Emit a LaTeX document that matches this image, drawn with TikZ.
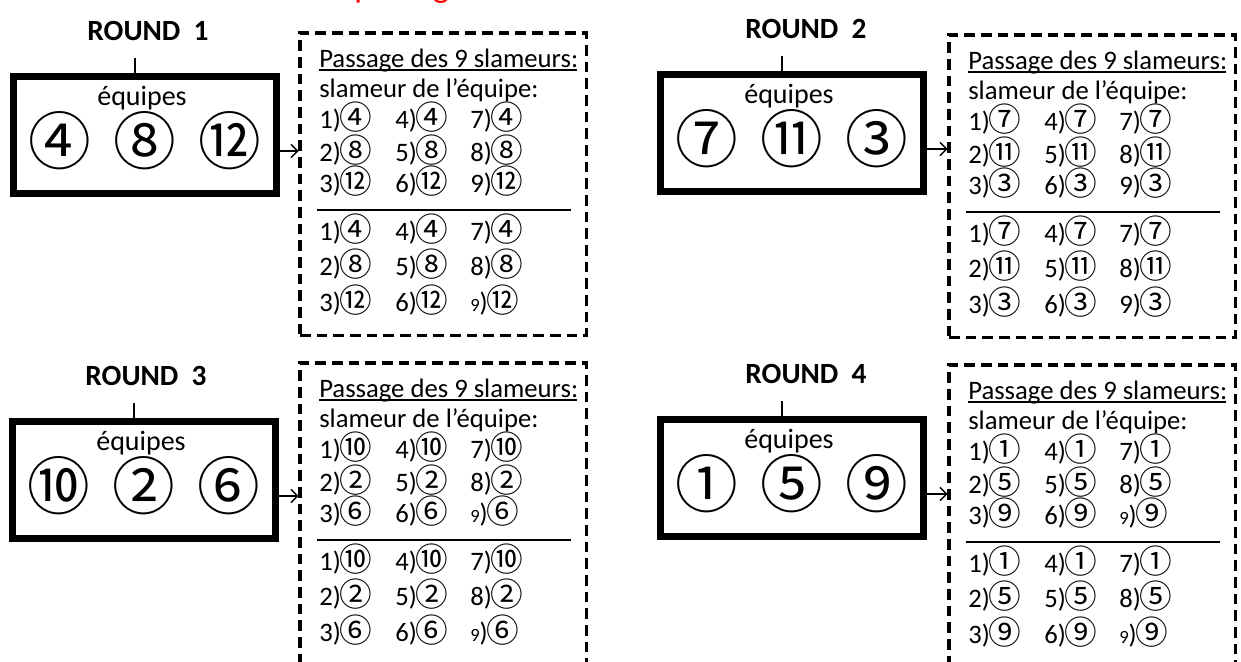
\documentclass[tikz,border=0pt]{standalone}
\usepackage{fontspec}
\setmainfont{Carlito}
\newfontfamily\circfont{Noto Sans CJK JP}
\usetikzlibrary{positioning,arrows.meta,calc}
\newcommand{\cn}[1]{{\kern-1pt\circfont\fontsize{24.5}{25}\selectfont\raisebox{-1.2pt}{#1}}}
\newcommand{\smallnine}{{\fontsize{14}{14}\selectfont 9}}
\tikzset{
  >=Straight Barb,
  shorten >=1pt,
}

\begin{document}
\begin{tikzpicture}[
  x=0.75pt, y=-0.75pt,
  roundlabel/.style={font=\fontsize{22}{26}\selectfont\bfseries, inner sep=0pt, anchor=base},
  teambox/.style={draw, line width=5.25pt, outer sep=0pt, minimum width=197pt, minimum height=88pt},
  team/.style={font=\circfont\fontsize{47}{47}\selectfont, inner sep=0pt},
  teamword/.style={font=\fontsize{21}{24}\selectfont, inner sep=0pt},
  slamlist/.style={draw, dash pattern=on 8pt off 4.5pt, line width=2.5pt, outer sep=0pt,
    minimum width=215pt, minimum height=227pt, anchor=north west},
  entry/.style={font=\fontsize{20}{24}\selectfont, inner sep=0pt, anchor=base west},
  stem/.style={line width=1.5pt},
  link/.style={->, line width=1.1pt, >={Straight Barb[length=5pt,width=10pt]}}
]

\useasboundingbox (0,0) rectangle (1241,661);

% red heading, cut off by the top edge
\node[entry, text=red, font=\fontsize{26}{30}\selectfont] (heading) at (354,-3) {passage};

\foreach \k/\bx/\by/\lo/\lx/\ly/\ta/\tb/\tc/\nu/\nd in {
  1/145/135/3/300/33/④/⑧/⑫/9/\smallnine,
  2/792/133/14/949/35/⑦/⑪/③/9/9,
  3/144/480/2/300/363/⑩/②/⑥/\smallnine/\smallnine,
  4/792/478/14/949/365/①/⑤/⑨/\smallnine/\smallnine}
{
  % teams of the round
  \node[teambox] (box\k) at (\bx,\by) {};
  \node[roundlabel] (lbl\k) at ($(box\k)+(\lo,-95)$) {ROUND~~\k};
  \node[teamword] (word\k) at ($(box\k)+(-3,-37)$) {équipes};
  \node[team] (ta\k) at ($(box\k)+(-85,6)$) {\ta};
  \node[team] (tb\k) at ($(box\k)+(0,6)$) {\tb};
  \node[team] (tc\k) at ($(box\k)+(85,6)$) {\tc};
  \draw[stem] ($(box\k.north)+(-10,0)$) -- ++(0,-20);

  % order of the slammers
  \node[slamlist] (list\k) at (\lx,\ly) {};
  \draw[link] ([yshift=-12pt]box\k.east) -- ([yshift=-12pt]box\k.east -| list\k.west);
  \node[entry] (pass\k) at ($(list\k.north west)+(19,34)$) {Passage des 9 slameurs:};
  \draw[line width=1.2pt] ([yshift=-2.2pt]pass\k.base west) -- ([yshift=-2.2pt]pass\k.base east);
  \node[entry] (who\k) at ($(list\k.north west)+(19,64)$) {slameur de l'équipe:};
  \draw[line width=1.5pt] ($(list\k.north west)+(17,177)$) -- ++(255,0);
  \foreach \na/\nb/\nc/\tm/\dy in {1/4/7/\ta/95, 2/5/8/\tb/128, 3/6/\nu/\tc/159,
                                   1/4/7/\ta/207, 2/5/8/\tb/242, 3/6/\nd/\tc/278}
  {
    \node[entry] (c\k-\dy-1) at ($(list\k.north west)+(19,\dy)$) {\na)\cn{\tm}};
    \node[entry] (c\k-\dy-2) at ($(list\k.north west)+(95,\dy)$) {\nb)\cn{\tm}};
    \node[entry] (c\k-\dy-3) at ($(list\k.north west)+(170,\dy)$) {\nc)\cn{\tm}};
  }
}

\end{tikzpicture}
\end{document}
